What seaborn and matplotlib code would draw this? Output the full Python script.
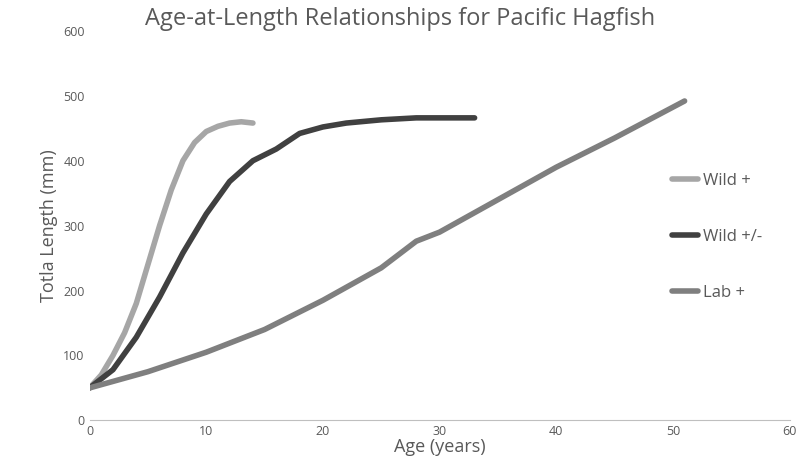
import matplotlib
matplotlib.use("Agg")
import matplotlib.pyplot as plt
import seaborn as sns
import pandas as pd

wild_age = [0, 1, 2, 3, 4, 5, 6, 7, 8, 9, 10, 11, 12, 13, 14]
wild_len = [50, 70, 100, 135, 180, 240, 300, 355, 400, 428, 445, 453, 458, 460, 458]
wildpm_age = [0, 2, 4, 6, 8, 10, 12, 14, 16, 17, 18, 20, 22, 25, 28, 30, 33]
wildpm_len = [50, 78, 128, 190, 258, 318, 368, 400, 418, 430, 442, 452, 458, 463, 466, 466, 466]
lab_age = [0, 5, 10, 15, 20, 25, 28, 30, 35, 40, 45, 51]
lab_len = [50, 75, 105, 140, 185, 235, 276, 290, 340, 390, 435, 492]

series = {"Wild +": (wild_age, wild_len), "Wild +/-": (wildpm_age, wildpm_len), "Lab +": (lab_age, lab_len)}
colors = {"Wild +": "#a6a6a6", "Wild +/-": "#404040", "Lab +": "#7f7f7f"}

df = pd.concat([pd.DataFrame({"age": a, "length": l, "group": g}) for g, (a, l) in series.items()])

sns.set_style("white")
plt.rcParams["font.family"] = ["Open Sans", "DejaVu Sans"]

fig = plt.figure(figsize=(8, 4.75), dpi=100)
ax = fig.add_axes([0.112, 0.115, 0.875, 0.82])
sns.lineplot(data=df, x="age", y="length", hue="group", palette=colors, linewidth=4,
             sort=False, ax=ax, legend=False)
for g in series:
    ax.plot([], [], color=colors[g], linewidth=4, label=g)

ax.set_xlim(0, 60)
ax.set_ylim(0, 600)
ax.set_xticks(range(0, 61, 10))
ax.set_yticks(range(0, 601, 100))
ax.tick_params(labelsize=9, colors="#595959", length=0)
for s in ["top", "right", "left"]:
    ax.spines[s].set_visible(False)
ax.spines["bottom"].set_color("#bfbfbf")
ax.set_xlabel("Age (years)", fontsize=13, color="#595959", labelpad=0)
ax.set_ylabel("Totla Length (mm)", fontsize=13, color="#595959")
fig.suptitle("Age-at-Length Relationships for Pacific Hagfish", fontsize=17, color="#595959", y=0.985)
ax.legend(loc="center left", bbox_to_anchor=(0.81, 0.47), frameon=False, fontsize=12,
          labelcolor="#595959", handlelength=1.6, labelspacing=2.4, handletextpad=0.3)
fig.savefig("out.png", dpi=100)
